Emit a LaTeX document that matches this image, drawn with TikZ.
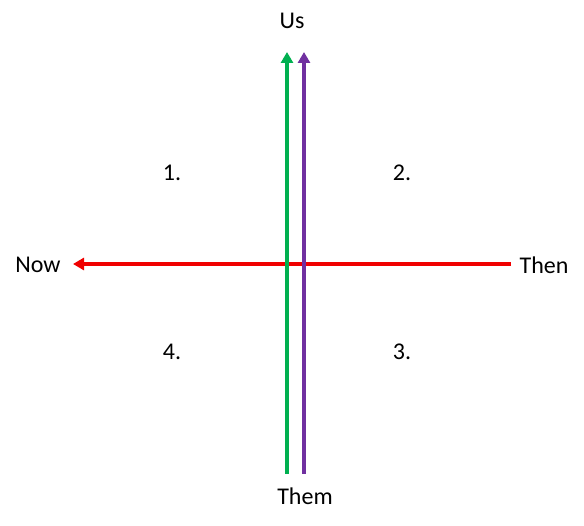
\documentclass[tikz,border=0pt]{standalone}
\usepackage{fontspec}
\setmainfont{Carlito}
\usetikzlibrary{arrows.meta}
\definecolor{axisgreen}{HTML}{00B050}
\definecolor{axispurple}{HTML}{7030A0}
\definecolor{axisred}{HTML}{F00000}
\begin{document}
\begin{tikzpicture}[x=1pt,y=-1pt,
    axis/.style={line width=4pt,-{Triangle[length=11pt,width=12pt]}},
    lbl/.style={font=\fontsize{24}{26}\selectfont,inner sep=0pt}]
                \useasboundingbox (0,0) rectangle (584,526);
                \coordinate (NowTip) at (73,264);
                \coordinate (ThenEnd) at (511,264);
                \coordinate (UsG) at (287,52);
                \coordinate (ThemG) at (287,474);
                \coordinate (UsP) at (304,52);
                \coordinate (ThemP) at (304,474);

                \draw[axis,axisred](ThenEnd)--(NowTip);
                \draw[axis,axisgreen](ThemG)--(UsG);
                \draw[axis,axispurple](ThemP)--(UsP);

                \node[lbl] (Us) at(292,21){Us};
                \node[lbl] (Them) at(305,496){Them};
                \node[lbl] (Now) at(38,265){Now};
                \node[lbl] (Then) at(544,265){Then};

                \node[lbl] (Q1) at(172,173){1.};
                \node[lbl] (Q2) at(402,173){2.};
                \node[lbl] (Q3) at(402,352){3.};
                \node[lbl] (Q4) at(172,352){4.};
            \end{tikzpicture}
\end{document}
